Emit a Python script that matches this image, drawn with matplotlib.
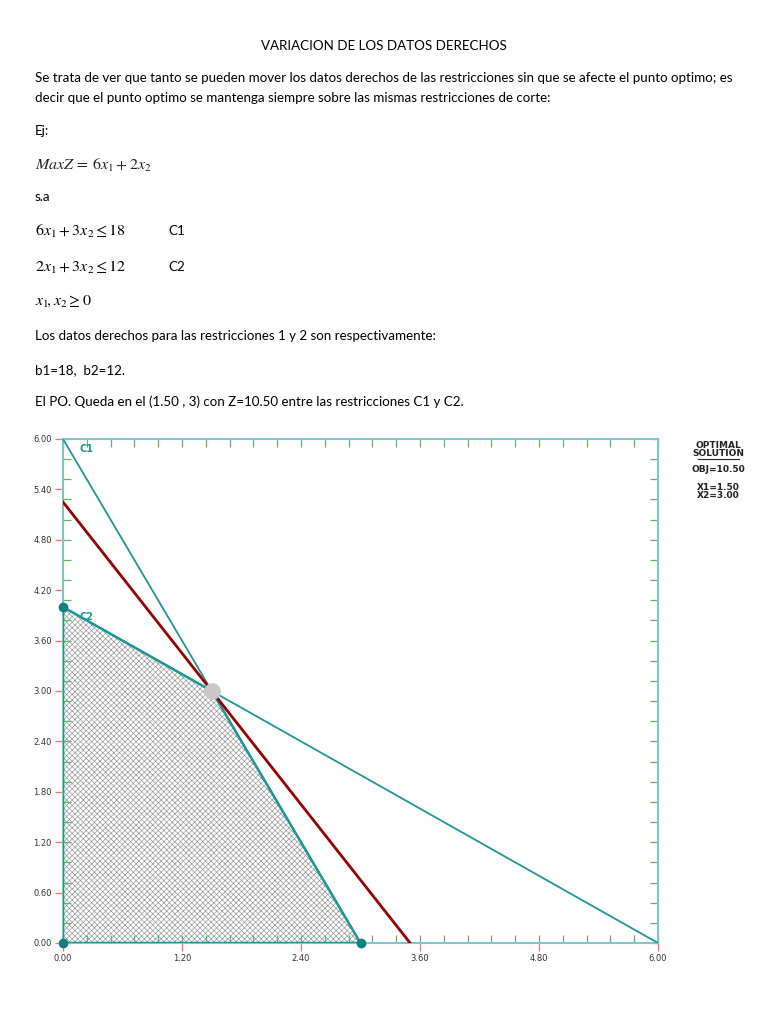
import matplotlib.pyplot as plt
from matplotlib.ticker import FixedLocator

# restricciones y funcion objetivo (extremos de cada recta)
c1_x = [0, 3]
c1_y = [6, 0]
c2_x = [0, 6]
c2_y = [4, 0]
z_x = [0, 3.5]
z_y = [5.25, 0]

# region factible y vertices
region_x = [0, 0, 1.5, 3]
region_y = [0, 4, 3, 0]
vert_x = [0, 0, 3]
vert_y = [4, 0, 0]
opt_x = [1.5]
opt_y = [3.0]

x_ticks = [0, 1.2, 2.4, 3.6, 4.8, 6.0]
y_ticks = [0, 0.6, 1.2, 1.8, 2.4, 3.0, 3.6, 4.2, 4.8, 5.4, 6.0]
minor_ticks = [i * 0.24 for i in range(26)]

plt.rcParams['font.family'] = ['Lato', 'DejaVu Sans']
plt.rcParams['mathtext.fontset'] = 'stix'
plt.rcParams['hatch.color'] = '#9c9c9c'
plt.rcParams['hatch.linewidth'] = 0.5

fig = plt.figure(figsize=(7.68, 10.24), dpi=100)

def px(xp, yp):
    return xp / 768, 1 - yp / 1024

# texto de la pagina
fs = 9.6
fig.text(*px(384, 46), 'VARIACION DE LOS DATOS DERECHOS', ha='center', va='center', fontsize=fs)
fig.text(*px(35, 78), 'Se trata de ver que tanto se pueden mover los datos derechos de las restricciones sin que se afecte el punto optimo; es',
         va='center', fontsize=fs)
fig.text(*px(35, 98), 'decir que el punto optimo se mantenga siempre sobre las mismas restricciones de corte:', va='center', fontsize=fs)
fig.text(*px(35, 131), 'Ej:', va='center', fontsize=fs)
fig.text(*px(35, 165), r'$MaxZ\,=\,6x_1+2x_2$', va='center', fontsize=11.5, color='#222222')
fig.text(*px(35, 197), 's.a', va='center', fontsize=fs)
fig.text(*px(35, 231), r'$6x_1+3x_2\leq 18$', va='center', fontsize=11.5)
fig.text(*px(168, 231), 'C1', va='center', fontsize=fs)
fig.text(*px(35, 267), r'$2x_1+3x_2\leq 12$', va='center', fontsize=11.5)
fig.text(*px(168, 267), 'C2', va='center', fontsize=fs)
fig.text(*px(35, 301), r'$x_1\!,x_2\geq 0$', va='center', fontsize=11.5)
fig.text(*px(35, 336), 'Los datos derechos para las restricciones 1 y 2 son respectivamente:', va='center', fontsize=fs)
fig.text(*px(35, 370), 'b1=18,  b2=12.', va='center', fontsize=fs)
fig.text(*px(35, 402), 'El PO. Queda en el (1.50 , 3) con Z=10.50 entre las restricciones C1 y C2.', va='center', fontsize=fs)

# grafico
ax = fig.add_axes([63 / 768, 1 - 943 / 1024, 595 / 768, 504 / 1024])
ax.set_xlim(0, 6)
ax.set_ylim(0, 6)

teal = '#1f9797'
ax.fill(region_x, region_y, facecolor='white', edgecolor='#9c9c9c', hatch='xxxxxx', linewidth=0, zorder=1)
ax.plot(c1_x, c1_y, color=teal, lw=1.3, zorder=3)
ax.plot(c2_x, c2_y, color=teal, lw=1.3, zorder=3)
ax.plot(z_x, z_y, color='#990000', lw=2, zorder=4)
ax.plot(region_x + [region_x[0]], region_y + [region_y[0]], color=teal, lw=1.8, zorder=3)
ax.plot(vert_x, vert_y, 'o', color='#0f7f7f', markersize=6, zorder=5, clip_on=False)
ax.plot(opt_x, opt_y, 'o', color='#c8c8c8', markersize=11, zorder=6)

ax.text(0.17, 5.84, 'C1', color=teal, fontsize=7, fontweight='bold', family='DejaVu Sans')
ax.text(0.17, 3.84, 'C2', color=teal, fontsize=7, fontweight='bold', family='DejaVu Sans')

for s in ax.spines.values():
    s.set_color('#7cc8c8')
    s.set_linewidth(1.5)

ax.set_xticks(x_ticks)
ax.set_yticks(y_ticks)
ax.set_xticklabels(['%.2f' % v for v in x_ticks])
ax.set_yticklabels(['%.2f' % v for v in y_ticks])
ax.xaxis.set_minor_locator(FixedLocator(minor_ticks))
ax.yaxis.set_minor_locator(FixedLocator(minor_ticks))
ax.xaxis.remove_overlapping_locs = False
ax.yaxis.remove_overlapping_locs = False
ax.tick_params(which='major', direction='out', length=6, width=0.9, color='#ff7070',
               labelsize=6, labelcolor='#333333', pad=2)
ax.tick_params(which='minor', direction='in', length=6, width=0.9, color='#5cb85c',
               top=True, right=True)
for lab in ax.get_xticklabels() + ax.get_yticklabels():
    lab.set_family('DejaVu Sans')

# recuadro de solucion
bold = dict(ha='center', va='center', fontsize=6.5, fontweight='bold', family='DejaVu Sans', color='#222222')
fig.text(*px(718, 445), 'OPTIMAL', **bold)
fig.text(*px(718, 454), 'SOLUTION', **bold)
fig.add_artist(plt.Line2D([698 / 768, 739 / 768], [1 - 459 / 1024, 1 - 459 / 1024], color='#222222', lw=0.8))
fig.text(*px(718, 470), 'OBJ=10.50', **bold)
fig.text(*px(718, 487), 'X1=1.50', **bold)
fig.text(*px(718, 496), 'X2=3.00', **bold)

fig.savefig('out.png', dpi=100)
